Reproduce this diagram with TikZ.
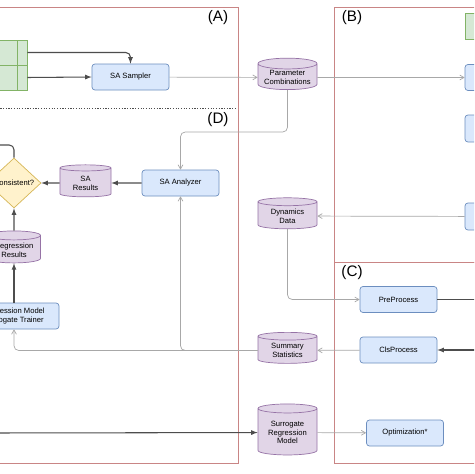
\documentclass[tikz,border=0pt]{standalone}
\usepackage{fontspec}
\setmainfont{Liberation Sans}
\usetikzlibrary{arrows,shapes.geometric}

\definecolor{boxfill}{HTML}{DAE8FC}
\definecolor{boxline}{HTML}{6C8EBF}
\definecolor{dbfill}{HTML}{E1D5E7}
\definecolor{dbline}{HTML}{9673A6}
\definecolor{decfill}{HTML}{FFF2CC}
\definecolor{decline}{HTML}{D6B656}
\definecolor{tabfill}{HTML}{D5E8D4}
\definecolor{tabline}{HTML}{82B366}
\definecolor{frameline}{HTML}{C98585}
\definecolor{lightwire}{HTML}{A8A8A8}
\definecolor{darkwire}{HTML}{4D4D4D}

\tikzset{
  proc/.style={draw=boxline, fill=boxfill, rounded corners=2.5pt, line width=0.6pt,
    minimum width=2.31cm, minimum height=0.78cm, align=center, inner sep=1pt,
    font=\fontsize{6.5}{7.5}\selectfont},
  db/.style={cylinder, shape border rotate=90, aspect=0.22, draw=dbline, fill=dbfill,
    line width=0.6pt, minimum width=1.77cm, minimum height=0.93cm, align=center,
    inner sep=1pt, font=\fontsize{6.5}{7.5}\selectfont},
  tabrow/.style={draw=tabline, fill=tabfill, line width=0.6pt, minimum width=1.71cm,
    minimum height=0.75cm, inner sep=0pt},
  darkarrow/.style={->, >=latex, darkwire, line width=0.9pt},
  lightarrow/.style={->, >=angle 60, lightwire, line width=0.6pt},
  panel/.style={draw=frameline, line width=0.6pt},
  tag/.style={font=\fontsize{13}{15}\selectfont}
}

\begin{document}
\begin{tikzpicture}[x=0.03cm, y=-0.03cm]
\useasboundingbox (0,0) rectangle (474,474);
\fill[white] (0,0) rectangle (474,474);
\clip (0,0) rectangle (474,474);

% panels
\draw[panel] (-5,7) rectangle (238,463);
\draw[panel] (334,7) rectangle (490,262);
\draw[panel] (334,262) rectangle (490,463);
\draw[darkwire, line width=0.6pt, dash pattern=on 1pt off 1.3pt] (-5,108) -- (236,108);

\node[tag] at (218,18) {(A)};
\node[tag] at (352,18) {(B)};
\node[tag] at (352,273) {(C)};
\node[tag] at (218,120) {(D)};

% input table
\node[tabrow] (row1) at (-1.5,52.5) {};
\node[tabrow] (row2) at (-1.5,77.5) {};
\draw[tabline, line width=0.6pt] (17,40) -- (17,90);

% panel A / D
\node[proc] (sampler) at (130.5,77) {SA Sampler};
\node[db] (params) at (287.5,77.5) {Parameter\\Combinations};
\node[proc] (analyzer) at (180.5,183) {SA Analyzer};
\node[db, minimum width=1.53cm, minimum height=0.96cm] (saresults) at (85.5,183) {SA\\Results};
\node[diamond, draw=decline, fill=decfill, line width=0.6pt, minimum width=1.62cm,
  minimum height=1.5cm, inner sep=0pt,
  label={[font=\fontsize{6.5}{7.5}\selectfont]center:Consistent?}] (check) at (14,183) {};
\node[db, minimum width=1.59cm, minimum height=0.96cm] (regresults) at (14,250) {Regression\\Results};
\node[proc, minimum width=2.7cm] (trainer) at (14,316) {Regression Model\\Surrogate Trainer};
\node[db] (dyn) at (287.5,216) {Dynamics\\Data};
\node[db] (stats) at (287.5,350.5) {Summary\\Statistics};
\node[db, minimum height=1.53cm] (surrogate) at (287.5,432.5) {Surrogate\\Regression\\Model};

% panel B
\node[draw=tabline, fill=tabfill, line width=0.6pt, minimum width=2.31cm, minimum height=0.78cm] (simin) at (503.5,26) {};
\node[proc] (outB1) at (503.5,77.5) {};
\node[proc, minimum height=0.81cm] (outB2) at (503.5,128.5) {};
\node[proc, minimum height=0.81cm] (outB3) at (503.5,216.5) {};

% panel C
\node[proc] (pre) at (398.5,299.5) {PreProcess};
\node[proc] (cls) at (398.5,350) {ClsProcess};
\node[proc] (optim) at (405,433) {Optimization*};

\coordinate (bendD) at (180.5,132);
\coordinate (loopL) at (-10,145);
\coordinate (offR1) at (480,299.5);
\coordinate (offR2) at (480,350);
\coordinate (offL) at (-10,433);

% connectors
\draw[darkarrow, rounded corners=4pt] (row1.east) -| (sampler.north);
\path[darkarrow] (row2.east) edge (sampler.west);
\path[lightarrow] (sampler) edge (params);
\path[lightarrow] (params) edge (outB1);
\draw[lightarrow, rounded corners=4pt] (params.south) |- (bendD) -- (analyzer.north);
\path[darkarrow] (analyzer) edge (saresults);
\path[darkarrow] (saresults) edge (check);
\path[darkarrow] (regresults) edge (check);
\path[darkarrow] (trainer) edge (regresults);
\draw[darkarrow, rounded corners=4pt] (check.north) |- (loopL);
\path[lightarrow] (outB3) edge (dyn);
\draw[lightarrow, rounded corners=4pt] (dyn.south) |- (pre.west);
\draw[darkwire, line width=0.9pt] (pre.east) -- (offR1);
\draw[darkarrow] (offR2) -- (cls.east);
\path[lightarrow] (cls) edge (stats);
\draw[lightarrow, rounded corners=4pt] (stats.west) -| (analyzer.south);
\draw[lightarrow, rounded corners=4pt] (stats.west) -| (trainer.south);
\path[darkarrow] (offL) edge (surrogate);
\path[lightarrow] (surrogate) edge (optim);
\end{tikzpicture}
\end{document}
